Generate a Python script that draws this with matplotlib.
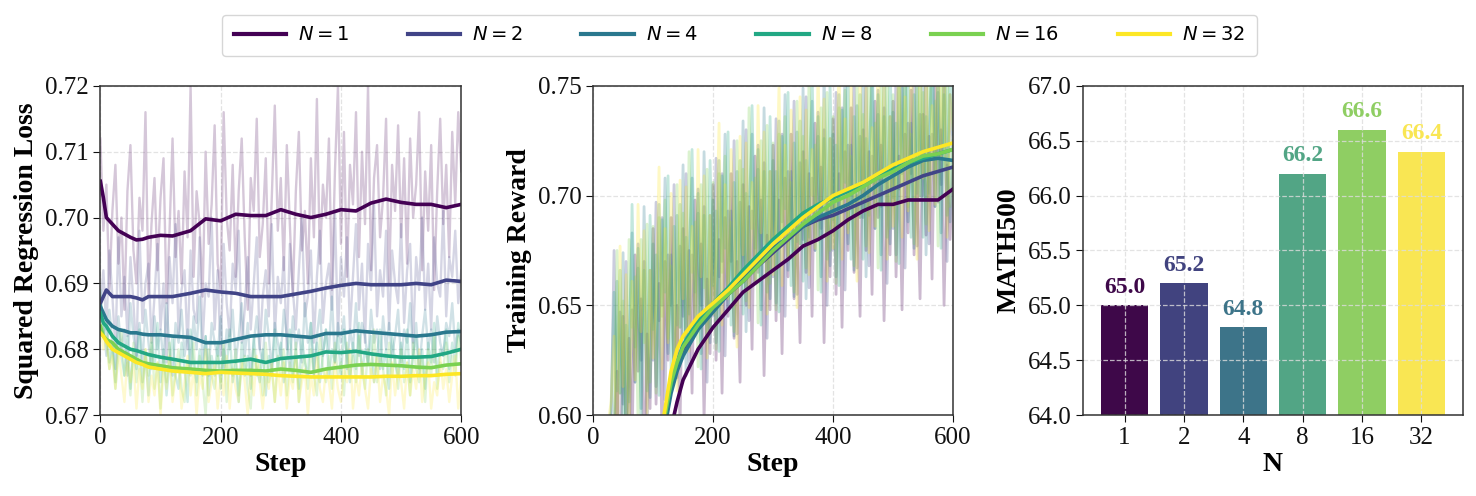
import matplotlib
matplotlib.use("Agg")
import matplotlib.pyplot as plt
import numpy as np

plt.rcParams['font.family'] = ['Liberation Serif', 'DejaVu Serif']
plt.rcParams['mathtext.fontset'] = 'dejavusans'

labels = ["$N=1$", "$N=2$", "$N=4$", "$N=8$", "$N=16$", "$N=32$"]
n_values = ["1", "2", "4", "8", "16", "32"]
math500 = [65.0, 65.2, 64.8, 66.2, 66.6, 66.4]
bar_colors = ['#3e0849', '#41437f', '#3d7489', '#52a585', '#8fce63', '#f9e653']

raw_steps = list(range(0, 601, 5))

# squared regression loss, raw, in units of 1e-3 (every 5 steps)
loss_raw_1 = [712, 698, 705, 689, 701, 708, 693, 700, 686, 704, 711, 695, 690, 703, 698, 716, 688, 699, 706, 692,
              703, 709, 687, 698, 712, 694, 701, 690, 707, 697, 720, 691, 704, 699, 688, 710, 696, 702, 714, 693,
              689, 716, 700, 695, 708, 691, 704, 712, 697, 686, 706, 701, 715, 694, 699, 709, 690, 703, 717, 698,
              706, 692, 711, 699, 688, 704, 713, 695, 701, 690, 709, 697, 718, 693, 705, 700, 712, 689, 707, 720,
              696, 713, 691, 708, 702, 716, 694, 710, 699, 720, 692, 706, 711, 697, 703, 715, 690, 708, 701, 714,
              697, 709, 693, 712, 700, 705, 716, 692, 707, 698, 711, 689, 704, 715, 699, 708, 694, 713, 702, 716,
              707]
loss_raw_2 = [686, 692, 683, 695, 688, 680, 697, 685, 691, 682, 694, 687, 679, 698, 684, 690, 693, 681, 688, 696,
              683, 690, 678, 694, 687, 699, 682, 689, 692, 680, 695, 686, 684, 697, 681, 690, 688, 700, 683, 692,
              679, 696, 687, 682, 693, 689, 698, 681, 686, 694, 683, 690, 697, 680, 688, 692, 685, 699, 682, 691,
              687, 694, 680, 696, 689, 683, 692, 700, 685, 688, 695, 681, 691, 698, 684, 690, 693, 686, 701, 682,
              694, 688, 697, 683, 691, 699, 686, 693, 681, 696, 689, 702, 685, 692, 688, 698, 683, 695, 690, 687,
              699, 684, 692, 696, 681, 694, 689, 700, 686, 693, 683, 697, 690, 688, 701, 685, 694, 691, 698, 687,
              692]
loss_raw_4 = [688, 684, 679, 686, 681, 677, 685, 680, 683, 676, 687, 682, 679, 684, 678, 686, 681, 677, 685, 680,
              683, 678, 687, 680, 676, 684, 681, 686, 679, 683, 677, 685, 680, 688, 678, 682, 676, 684, 681, 679,
              685, 677, 683, 680, 686, 678, 682, 687, 679, 684, 676, 681, 685, 680, 678, 686, 682, 677, 684, 681,
              679, 686, 682, 677, 685, 680, 683, 678, 687, 681, 684, 676, 682, 686, 679, 683, 680, 688, 678, 684,
              681, 685, 677, 683, 680, 687, 679, 684, 682, 678, 686, 681, 683, 677, 685, 680, 684, 679, 682, 686,
              678, 683, 681, 687, 679, 684, 677, 682, 686, 680, 683, 678, 685, 681, 679, 684, 682, 687, 680, 683,
              681]
loss_raw_8 = [689, 682, 684, 678, 681, 675, 683, 679, 676, 682, 674, 680, 677, 683, 675, 679, 673, 681, 677, 684,
              675, 680, 673, 678, 682, 676, 674, 681, 677, 672, 683, 678, 675, 680, 676, 682, 673, 679, 676, 681,
              674, 680, 677, 683, 675, 678, 672, 681, 676, 679, 674, 682, 677, 675, 680, 673, 679, 676, 683, 677,
              681, 675, 679, 683, 676, 680, 674, 682, 678, 676, 684, 677, 681, 675, 679, 683, 676, 680, 678, 682,
              676, 683, 679, 675, 681, 677, 684, 676, 680, 678, 682, 675, 679, 683, 677, 680, 674, 682, 678, 676,
              681, 677, 683, 675, 679, 682, 676, 680, 674, 681, 678, 684, 676, 680, 679, 683, 677, 681, 678, 684,
              680]
loss_raw_16 = [687, 683, 681, 677, 680, 674, 679, 683, 676, 678, 673, 681, 675, 679, 672, 680, 676, 682, 674, 678,
               671, 679, 675, 681, 673, 677, 680, 674, 672, 678, 676, 681, 673, 679, 675, 670, 680, 676, 674, 679,
               675, 681, 672, 678, 676, 680, 673, 677, 679, 674, 671, 680, 676, 678, 673, 681, 675, 677, 672, 679,
               676, 680, 673, 678, 675, 681, 672, 677, 679, 674, 680, 676, 673, 682, 677, 675, 679, 674, 681, 676,
               678, 673, 681, 676, 679, 675, 682, 677, 674, 680, 676, 683, 675, 679, 677, 673, 681, 676, 679, 674,
               680, 675, 678, 673, 681, 677, 675, 679, 672, 680, 676, 682, 674, 678, 677, 681, 675, 679, 676, 682,
               678]
loss_raw_32 = [684, 680, 682, 677, 679, 674, 680, 676, 672, 679, 675, 678, 671, 677, 674, 680, 672, 676, 673, 678,
               670, 677, 674, 679, 672, 676, 678, 671, 675, 679, 673, 677, 670, 676, 674, 680, 672, 675, 678, 671,
               676, 673, 679, 671, 677, 674, 672, 678, 675, 670, 677, 673, 679, 675, 671, 676, 674, 678, 672, 677,
               673, 678, 671, 676, 674, 679, 672, 675, 677, 670, 676, 673, 679, 674, 672, 677, 675, 671, 678, 674,
               672, 677, 675, 680, 671, 676, 673, 678, 674, 671, 677, 675, 679, 672, 676, 674, 670, 678, 673, 677,
               675, 671, 678, 673, 677, 674, 680, 672, 676, 678, 671, 675, 673, 679, 674, 677, 672, 676, 679, 671,
               676]
loss_raw = [loss_raw_1, loss_raw_2, loss_raw_4, loss_raw_8, loss_raw_16, loss_raw_32]

loss_steps = [0, 5, 10, 20, 30, 40, 50, 60, 70, 80, 100, 120, 150, 175, 200, 225,
              250, 275, 300, 325, 350, 375, 400, 425, 450, 475, 500, 525, 550, 575, 600]
loss_smooth = [
    [0.7055, 0.703, 0.700, 0.699, 0.698, 0.6975, 0.697, 0.6966, 0.6967, 0.697, 0.6973,
     0.6972, 0.698, 0.6998, 0.6995, 0.7005, 0.7003, 0.7003, 0.7012, 0.7005, 0.700,
     0.7005, 0.7012, 0.701, 0.7022, 0.7028, 0.7023, 0.702, 0.702, 0.7015, 0.702],
    [0.687, 0.688, 0.689, 0.688, 0.688, 0.688, 0.688, 0.6878, 0.6875, 0.688, 0.688,
     0.688, 0.6885, 0.689, 0.6887, 0.6885, 0.688, 0.688, 0.688, 0.6884, 0.6888,
     0.6893, 0.6897, 0.690, 0.6898, 0.6898, 0.6898, 0.690, 0.6898, 0.6905, 0.6903],
    [0.6865, 0.6855, 0.6845, 0.6835, 0.683, 0.6828, 0.6825, 0.6825, 0.6823, 0.6822, 0.6822,
     0.682, 0.6818, 0.681, 0.681, 0.6815, 0.682, 0.6822, 0.6822, 0.682, 0.6818,
     0.6824, 0.6824, 0.6828, 0.6826, 0.6824, 0.6822, 0.682, 0.6822, 0.6826, 0.6827],
    [0.6855, 0.684, 0.6835, 0.682, 0.681, 0.6805, 0.680, 0.6798, 0.6795, 0.6792, 0.6788,
     0.6785, 0.678, 0.678, 0.678, 0.6782, 0.6785, 0.678, 0.6786, 0.6788, 0.679,
     0.6796, 0.6795, 0.6797, 0.6793, 0.679, 0.6788, 0.6788, 0.6789, 0.6794, 0.680],
    [0.6835, 0.682, 0.6815, 0.681, 0.680, 0.6795, 0.679, 0.6785, 0.678, 0.6778, 0.6775,
     0.6772, 0.677, 0.6768, 0.6767, 0.6768, 0.6768, 0.6767, 0.677, 0.6768, 0.6765,
     0.677, 0.6773, 0.6776, 0.6777, 0.6776, 0.6775, 0.6773, 0.6772, 0.6776, 0.6778],
    [0.6825, 0.682, 0.6812, 0.680, 0.6795, 0.679, 0.6785, 0.678, 0.6777, 0.6773, 0.677,
     0.6767, 0.6765, 0.6763, 0.6765, 0.6764, 0.6763, 0.6762, 0.676, 0.6759, 0.6758,
     0.6758, 0.6758, 0.6758, 0.6758, 0.6759, 0.6759, 0.676, 0.676, 0.6762, 0.6763],
]

# training reward, raw, in units of 1e-3 (every 5 steps)
reward_raw_1 = [500, 520, 540, 555, 570, 580, 590, 585, 620, 565, 645, 590, 635, 585, 673, 620, 653, 573, 637, 603,
                685, 605, 660, 590, 670, 625, 690, 615, 650, 595, 685, 630, 675, 610, 698, 645, 678, 598, 662, 628,
                705, 625, 680, 610, 690, 645, 710, 635, 670, 615, 705, 650, 695, 630, 718, 665, 698, 618, 682, 648,
                723, 643, 698, 628, 708, 663, 728, 653, 688, 633, 720, 665, 710, 645, 733, 680, 713, 633, 697, 663,
                735, 655, 710, 640, 720, 675, 740, 665, 700, 645, 730, 675, 720, 655, 743, 690, 723, 643, 707, 673,
                743, 663, 718, 648, 728, 683, 748, 673, 708, 653, 737, 682, 727, 662, 750, 697, 730, 650, 714, 680,
                712]
reward_raw_2 = [510, 530, 548, 562, 575, 585, 596, 675, 587, 647, 605, 670, 583, 648, 615, 678, 625, 670, 590, 666,
                625, 697, 643, 690, 607, 673, 650, 705, 617, 677, 645, 710, 623, 673, 640, 703, 650, 695, 615, 691,
                645, 717, 663, 710, 627, 693, 670, 725, 637, 697, 665, 730, 643, 693, 660, 723, 670, 715, 635, 711,
                663, 735, 681, 728, 645, 711, 688, 743, 655, 715, 680, 745, 658, 708, 675, 738, 685, 730, 650, 726,
                675, 747, 693, 740, 657, 723, 700, 755, 667, 727, 690, 755, 668, 718, 685, 748, 695, 740, 660, 736,
                685, 757, 703, 750, 667, 733, 710, 765, 677, 737, 700, 765, 678, 728, 695, 758, 705, 750, 670, 746,
                722]
reward_raw_4 = [515, 535, 552, 566, 578, 588, 598, 586, 661, 610, 674, 578, 633, 683, 615, 667, 603, 695, 633, 608,
                678, 613, 696, 650, 708, 628, 673, 616, 691, 640, 714, 618, 673, 708, 640, 692, 628, 720, 658, 633,
                698, 633, 716, 670, 728, 648, 693, 636, 711, 660, 734, 638, 693, 728, 660, 712, 648, 740, 678, 653,
                716, 651, 734, 688, 746, 666, 711, 654, 729, 678, 749, 653, 708, 743, 675, 727, 663, 755, 693, 668,
                728, 663, 746, 700, 758, 678, 723, 666, 741, 690, 759, 663, 718, 753, 685, 737, 673, 765, 703, 678,
                738, 673, 756, 710, 768, 688, 733, 676, 751, 700, 769, 673, 728, 763, 695, 747, 683, 775, 713, 688,
                725]
reward_raw_8 = [520, 540, 556, 570, 582, 592, 602, 656, 611, 666, 586, 641, 606, 696, 631, 676, 596, 666, 611, 691,
                639, 673, 609, 689, 656, 709, 621, 686, 641, 696, 626, 681, 646, 721, 656, 701, 621, 691, 636, 716,
                659, 693, 629, 709, 676, 729, 641, 706, 661, 716, 646, 701, 666, 741, 676, 721, 641, 711, 656, 736,
                677, 711, 647, 727, 694, 747, 659, 724, 679, 734, 661, 716, 681, 756, 691, 736, 656, 726, 671, 751,
                689, 723, 659, 739, 706, 759, 671, 736, 691, 746, 671, 726, 691, 766, 701, 746, 666, 736, 681, 761,
                699, 733, 669, 749, 716, 769, 681, 746, 701, 756, 681, 736, 701, 776, 711, 756, 676, 746, 691, 771,
                728]
reward_raw_16 = [518, 538, 554, 568, 580, 590, 600, 588, 675, 610, 652, 592, 680, 640, 663, 597, 680, 633, 687, 615,
                 686, 610, 690, 645, 698, 635, 668, 618, 705, 640, 692, 632, 720, 665, 688, 622, 705, 658, 712, 640,
                 706, 630, 710, 665, 718, 655, 688, 638, 725, 660, 712, 652, 740, 685, 708, 642, 725, 678, 732, 660,
                 724, 648, 728, 683, 736, 673, 706, 656, 743, 678, 727, 667, 755, 700, 723, 657, 740, 693, 747, 675,
                 736, 660, 740, 695, 748, 685, 718, 668, 755, 690, 737, 677, 765, 710, 733, 667, 750, 703, 757, 685,
                 746, 670, 750, 705, 758, 695, 728, 678, 765, 700, 747, 687, 775, 720, 743, 677, 760, 713, 767, 695,
                 727]
reward_raw_32 = [525, 545, 560, 574, 586, 596, 606, 636, 581, 677, 613, 664, 589, 661, 616, 696, 638, 684, 601, 666,
                 626, 651, 713, 621, 685, 633, 701, 666, 611, 707, 653, 704, 629, 686, 641, 721, 663, 709, 626, 691,
                 646, 671, 733, 641, 705, 653, 721, 686, 631, 727, 673, 724, 649, 706, 661, 741, 683, 729, 646, 711,
                 664, 689, 751, 659, 723, 671, 739, 704, 649, 745, 688, 739, 664, 721, 676, 756, 698, 744, 661, 726,
                 676, 701, 763, 671, 735, 683, 751, 716, 661, 757, 698, 749, 674, 731, 686, 766, 708, 754, 671, 736,
                 686, 711, 773, 681, 745, 693, 761, 726, 671, 767, 708, 759, 684, 741, 696, 776, 718, 764, 681, 746,
                 730]
reward_raw = [reward_raw_1, reward_raw_2, reward_raw_4, reward_raw_8, reward_raw_16, reward_raw_32]

reward_steps = [100, 120, 130, 140, 150, 175, 200, 225, 250, 275, 300, 325,
                350, 375, 400, 425, 450, 475, 500, 525, 550, 575, 600]
reward_smooth = [
    [0.545, 0.580, 0.594, 0.606, 0.616, 0.630, 0.640, 0.648, 0.656, 0.661, 0.666, 0.671,
     0.677, 0.680, 0.684, 0.689, 0.693, 0.696, 0.696, 0.698, 0.698, 0.698, 0.703],
    [0.562, 0.597, 0.612, 0.622, 0.630, 0.641, 0.648, 0.655, 0.661, 0.668, 0.674, 0.680,
     0.686, 0.689, 0.691, 0.694, 0.697, 0.700, 0.703, 0.706, 0.709, 0.711, 0.713],
    [0.560, 0.595, 0.610, 0.620, 0.627, 0.639, 0.647, 0.655, 0.662, 0.669, 0.676, 0.681,
     0.686, 0.690, 0.693, 0.696, 0.700, 0.705, 0.709, 0.713, 0.716, 0.717, 0.716],
    [0.563, 0.600, 0.614, 0.624, 0.632, 0.643, 0.651, 0.658, 0.666, 0.673, 0.680, 0.686,
     0.692, 0.696, 0.699, 0.702, 0.705, 0.709, 0.712, 0.715, 0.717, 0.719, 0.721],
    [0.565, 0.600, 0.615, 0.624, 0.631, 0.641, 0.649, 0.655, 0.661, 0.668, 0.675, 0.681,
     0.687, 0.692, 0.697, 0.700, 0.704, 0.708, 0.711, 0.715, 0.718, 0.719, 0.721],
    [0.570, 0.603, 0.620, 0.630, 0.636, 0.645, 0.651, 0.657, 0.664, 0.671, 0.678, 0.684,
     0.690, 0.695, 0.700, 0.703, 0.706, 0.710, 0.714, 0.717, 0.720, 0.722, 0.724],
]

colors = plt.cm.viridis(np.linspace(0, 1, 6))

fig = plt.figure(figsize=(14.76, 4.96), dpi=100)
ax1 = fig.add_axes([0.068, 0.163, 0.2445, 0.664])
ax2 = fig.add_axes([0.4018, 0.163, 0.2439, 0.664])
ax3 = fig.add_axes([0.7337, 0.163, 0.2575, 0.664])

for ax in (ax1, ax2, ax3):
    ax.grid(True, linestyle='--', color='#dddddd', alpha=0.8, linewidth=0.9)
    ax.set_axisbelow(True)
    for sp in ax.spines.values():
        sp.set_color('#333333')
        sp.set_linewidth(1.1)
    ax.tick_params(labelsize=18, colors='#111111', length=5)

# left panel
for i in range(6):
    ax1.plot(raw_steps, np.array(loss_raw[i]) / 1000, color=colors[i], alpha=0.22, lw=1.7)
for i in range(6):
    ax1.plot(loss_steps, loss_smooth[i], color=colors[i], lw=2.6, label=labels[i])
ax1.set_xlim(0, 600)
ax1.set_ylim(0.67, 0.72)
ax1.set_xticks([0, 200, 400, 600])
ax1.set_yticks([0.67, 0.68, 0.69, 0.70, 0.71, 0.72])
ax1.set_xlabel("Step", fontsize=20, fontweight='bold', labelpad=2)
ax1.set_ylabel("Squared Regression Loss", fontsize=20, fontweight='bold', labelpad=4)

# middle panel
for i in range(6):
    ax2.plot(raw_steps, np.array(reward_raw[i]) / 1000, color=colors[i], alpha=0.27, lw=2.0)
for i in range(6):
    ax2.plot(reward_steps, reward_smooth[i], color=colors[i], lw=2.6)
ax2.set_xlim(0, 600)
ax2.set_ylim(0.60, 0.75)
ax2.set_xticks([0, 200, 400, 600])
ax2.set_yticks([0.60, 0.65, 0.70, 0.75])
ax2.set_xlabel("Step", fontsize=20, fontweight='bold', labelpad=2)
ax2.set_ylabel("Training Reward", fontsize=20, fontweight='bold', labelpad=4)

# right panel
ax3.set_axisbelow('line')
xpos = np.arange(len(n_values))
ax3.bar(xpos, math500, width=0.8, color=bar_colors, zorder=1)
for x, v, c in zip(xpos, math500, bar_colors):
    ax3.text(x, v + 0.07, f"{v:.1f}", ha='center', va='bottom', color=c,
             fontsize=17, fontweight='bold')
ax3.set_ylim(64.0, 67.0)
ax3.set_xlim(-0.7, 5.7)
ax3.set_xticks(xpos)
ax3.set_xticklabels(n_values)
ax3.set_yticks([64.0, 64.5, 65.0, 65.5, 66.0, 66.5, 67.0])
ax3.set_xlabel("N", fontsize=20, fontweight='bold', labelpad=2)
ax3.set_ylabel("MATH500", fontsize=20, fontweight='bold', labelpad=4)

fig.legend(*ax1.get_legend_handles_labels(), loc='upper center',
           bbox_to_anchor=(0.501, 0.99), ncol=6, fontsize=14, frameon=True,
           handlelength=2.7, columnspacing=3.0, handletextpad=0.62,
           borderpad=0.6, fancybox=True, edgecolor='#cccccc')
for h in fig.legends[0].get_lines():
    h.set_linewidth(3)

plt.savefig("out.png", dpi=100)
plt.close()
